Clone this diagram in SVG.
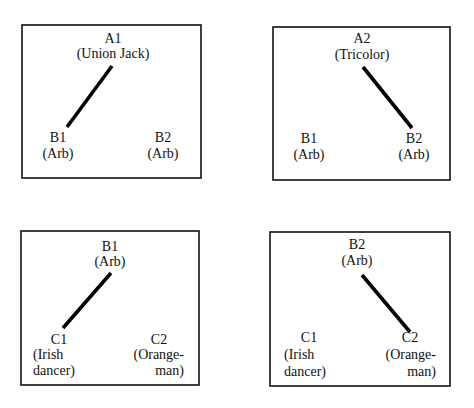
<svg xmlns="http://www.w3.org/2000/svg" width="474" height="408" viewBox="0 0 474 408">
<style>
.box{fill:none;stroke:#111;stroke-width:1.6}
text{font-family:"Liberation Serif","Times New Roman",serif;font-size:14px;fill:#111;text-anchor:middle}
.l{text-anchor:start}
.r{text-anchor:end}
.edge{stroke:#000;stroke-width:3.6;stroke-linecap:butt}
</style>
<rect width="474" height="408" fill="#fff"/>
<g id="panel1">
<rect class="box" x="22" y="25" width="179" height="153"/>
<g id="p1-A1"><text x="113" y="43">A1</text><text x="113" y="58">(Union Jack)</text></g>
<g id="p1-B1"><text x="58" y="142">B1</text><text x="58" y="158">(Arb)</text></g>
<g id="p1-B2"><text x="163" y="142">B2</text><text x="163" y="158">(Arb)</text></g>
</g>
<g id="panel2">
<rect class="box" x="273" y="27" width="177" height="153"/>
<g id="p2-A2"><text x="362" y="43">A2</text><text x="362" y="59">(Tricolor)</text></g>
<g id="p2-B1"><text x="309" y="143">B1</text><text x="309" y="159">(Arb)</text></g>
<g id="p2-B2"><text x="414" y="143">B2</text><text x="414" y="159">(Arb)</text></g>
</g>
<g id="panel3">
<rect class="box" x="21" y="231" width="178" height="154"/>
<g id="p3-B1"><text x="110" y="251">B1</text><text x="110" y="266">(Arb)</text></g>
<g id="p3-C1"><text x="59" y="344">C1</text><text class="l" x="33" y="359">(Irish</text><text class="l" x="33" y="375">dancer)</text></g>
<g id="p3-C2"><text x="159" y="344">C2</text><text class="r" x="184" y="359">(Orange-</text><text class="r" x="184" y="375">man)</text></g>
</g>
<g id="panel4">
<rect class="box" x="270" y="232" width="180" height="154"/>
<g id="p4-B2"><text x="357" y="249">B2</text><text x="357" y="265">(Arb)</text></g>
<g id="p4-C1"><text x="309" y="342">C1</text><text class="l" x="284" y="359">(Irish</text><text class="l" x="284" y="376">dancer)</text></g>
<g id="p4-C2"><text x="410" y="342">C2</text><text class="r" x="436" y="359">(Orange-</text><text class="r" x="436" y="376">man)</text></g>
</g>
<g id="connectors">
<line class="edge" x1="112" y1="66" x2="67" y2="127"/>
<line class="edge" x1="363" y1="67" x2="412" y2="128"/>
<line class="edge" x1="111" y1="273" x2="63" y2="328"/>
<line class="edge" x1="362" y1="275" x2="410" y2="332"/>
</g>
</svg>
